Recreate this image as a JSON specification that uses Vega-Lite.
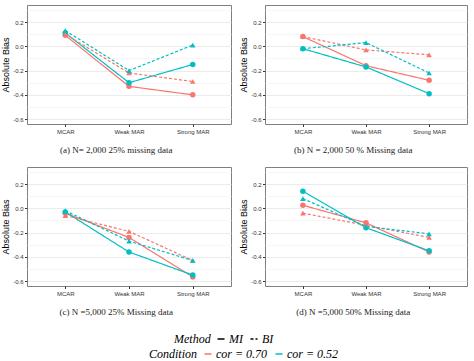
{
  "$schema": "https://vega.github.io/schema/vega-lite/v6.json",
  "padding": {"left": 1, "top": 4, "right": 5, "bottom": 0},
  "background": "white",
  "data": {"values": [
    {"p":"a","m":"MI","c":"cor = 0.70","x":"MCAR","v":0.09},
    {"p":"a","m":"MI","c":"cor = 0.70","x":"Weak MAR","v":-0.33},
    {"p":"a","m":"MI","c":"cor = 0.70","x":"Strong MAR","v":-0.40},
    {"p":"a","m":"MI","c":"cor = 0.52","x":"MCAR","v":0.11},
    {"p":"a","m":"MI","c":"cor = 0.52","x":"Weak MAR","v":-0.30},
    {"p":"a","m":"MI","c":"cor = 0.52","x":"Strong MAR","v":-0.15},
    {"p":"a","m":"BI","c":"cor = 0.70","x":"MCAR","v":0.10},
    {"p":"a","m":"BI","c":"cor = 0.70","x":"Weak MAR","v":-0.22},
    {"p":"a","m":"BI","c":"cor = 0.70","x":"Strong MAR","v":-0.29},
    {"p":"a","m":"BI","c":"cor = 0.52","x":"MCAR","v":0.13},
    {"p":"a","m":"BI","c":"cor = 0.52","x":"Weak MAR","v":-0.20},
    {"p":"a","m":"BI","c":"cor = 0.52","x":"Strong MAR","v":0.01},
    {"p":"b","m":"MI","c":"cor = 0.70","x":"MCAR","v":0.08},
    {"p":"b","m":"MI","c":"cor = 0.70","x":"Weak MAR","v":-0.16},
    {"p":"b","m":"MI","c":"cor = 0.70","x":"Strong MAR","v":-0.28},
    {"p":"b","m":"MI","c":"cor = 0.52","x":"MCAR","v":-0.02},
    {"p":"b","m":"MI","c":"cor = 0.52","x":"Weak MAR","v":-0.17},
    {"p":"b","m":"MI","c":"cor = 0.52","x":"Strong MAR","v":-0.39},
    {"p":"b","m":"BI","c":"cor = 0.70","x":"MCAR","v":0.08},
    {"p":"b","m":"BI","c":"cor = 0.70","x":"Weak MAR","v":-0.03},
    {"p":"b","m":"BI","c":"cor = 0.70","x":"Strong MAR","v":-0.07},
    {"p":"b","m":"BI","c":"cor = 0.52","x":"MCAR","v":-0.02},
    {"p":"b","m":"BI","c":"cor = 0.52","x":"Weak MAR","v":0.03},
    {"p":"b","m":"BI","c":"cor = 0.52","x":"Strong MAR","v":-0.22},
    {"p":"c","m":"MI","c":"cor = 0.70","x":"MCAR","v":-0.04},
    {"p":"c","m":"MI","c":"cor = 0.70","x":"Weak MAR","v":-0.24},
    {"p":"c","m":"MI","c":"cor = 0.70","x":"Strong MAR","v":-0.565},
    {"p":"c","m":"MI","c":"cor = 0.52","x":"MCAR","v":-0.03},
    {"p":"c","m":"MI","c":"cor = 0.52","x":"Weak MAR","v":-0.36},
    {"p":"c","m":"MI","c":"cor = 0.52","x":"Strong MAR","v":-0.55},
    {"p":"c","m":"BI","c":"cor = 0.70","x":"MCAR","v":-0.06},
    {"p":"c","m":"BI","c":"cor = 0.70","x":"Weak MAR","v":-0.19},
    {"p":"c","m":"BI","c":"cor = 0.70","x":"Strong MAR","v":-0.43},
    {"p":"c","m":"BI","c":"cor = 0.52","x":"MCAR","v":-0.02},
    {"p":"c","m":"BI","c":"cor = 0.52","x":"Weak MAR","v":-0.27},
    {"p":"c","m":"BI","c":"cor = 0.52","x":"Strong MAR","v":-0.43},
    {"p":"d","m":"MI","c":"cor = 0.70","x":"MCAR","v":0.025},
    {"p":"d","m":"MI","c":"cor = 0.70","x":"Weak MAR","v":-0.12},
    {"p":"d","m":"MI","c":"cor = 0.70","x":"Strong MAR","v":-0.36},
    {"p":"d","m":"MI","c":"cor = 0.52","x":"MCAR","v":0.14},
    {"p":"d","m":"MI","c":"cor = 0.52","x":"Weak MAR","v":-0.16},
    {"p":"d","m":"MI","c":"cor = 0.52","x":"Strong MAR","v":-0.35},
    {"p":"d","m":"BI","c":"cor = 0.70","x":"MCAR","v":-0.04},
    {"p":"d","m":"BI","c":"cor = 0.70","x":"Weak MAR","v":-0.14},
    {"p":"d","m":"BI","c":"cor = 0.70","x":"Strong MAR","v":-0.24},
    {"p":"d","m":"BI","c":"cor = 0.52","x":"MCAR","v":0.08},
    {"p":"d","m":"BI","c":"cor = 0.52","x":"Weak MAR","v":-0.15},
    {"p":"d","m":"BI","c":"cor = 0.52","x":"Strong MAR","v":-0.21}
  ]},
  "columns": 2,
  "spacing": {"row": 10, "column": 7},
  "concat": [
    {
      "width": 204, "height": 119,
      "title": {"text": "(a) N= 2,000 25% missing data"},
      "transform": [{"filter": "datum.p == 'a'"}],
      "encoding": {
        "x": {"field": "x", "type": "nominal", "scale": {"type": "point", "domain": ["MCAR","Weak MAR","Strong MAR"], "padding": 0.6}, "axis": {"title": null, "labelAngle": 0}},
        "y": {"field": "v", "type": "quantitative", "scale": {"domain": [-0.64, 0.34], "nice": false, "zero": false}, "axis": {"title": "Absolute Bias", "values": [-0.6,-0.5,-0.4,-0.3,-0.2,-0.1,0,0.1,0.2,0.3], "labelExpr": "round(datum.value*10) % 2 == 0 ? replace(format(datum.value, '.1f'), '\u2212', '-') : ''", "tickOpacity": {"condition": {"test": "round(datum.value*10) % 2 != 0", "value": 0}, "value": 1}, "gridColor": {"condition": {"test": "round(datum.value*10) % 2 != 0", "value": "#f4f4f4"}, "value": "#e6e6e6"}}},
        "color": {"field": "c", "type": "nominal", "scale": {"domain": ["cor = 0.70","cor = 0.52"], "range": ["#F8766D","#00BFC4"]}, "legend": {"title": "Condition", "orient": "none", "legendX": 122, "legendY": 343, "direction": "horizontal", "titleOrient": "left", "symbolType": "stroke"}}
      },
      "layer": [
        {"mark": {"type": "line", "strokeWidth": 1.2}, "encoding": {"strokeDash": {"field": "m", "type": "nominal", "scale": {"domain": ["MI","BI"], "range": [[1,0],[3,2]]}, "legend": {"title": "Method", "orient": "none", "legendX": 147, "legendY": 328, "direction": "horizontal", "titleOrient": "left", "symbolType": "stroke", "symbolStrokeColor": "black"}}}},
        {"transform": [{"filter": "datum.m == 'MI'"}], "mark": {"type": "point", "filled": true, "opacity": 1, "size": 30, "shape": "circle"}},
        {"transform": [{"filter": "datum.m == 'BI'"}], "mark": {"type": "point", "filled": true, "opacity": 1, "size": 30, "shape": "triangle-up"}}
      ]
    },
    {
      "width": 202, "height": 119,
      "title": {"text": "(b) N = 2,000 50 % Missing data"},
      "transform": [{"filter": "datum.p == 'b'"}],
      "encoding": {
        "x": {"field": "x", "type": "nominal", "scale": {"type": "point", "domain": ["MCAR","Weak MAR","Strong MAR"], "padding": 0.6}, "axis": {"title": null, "labelAngle": 0}},
        "y": {"field": "v", "type": "quantitative", "scale": {"domain": [-0.64, 0.34], "nice": false, "zero": false}, "axis": {"title": "Absolute Bias", "values": [-0.6,-0.5,-0.4,-0.3,-0.2,-0.1,0,0.1,0.2,0.3], "labelExpr": "round(datum.value*10) % 2 == 0 ? replace(format(datum.value, '.1f'), '\u2212', '-') : ''", "tickOpacity": {"condition": {"test": "round(datum.value*10) % 2 != 0", "value": 0}, "value": 1}, "gridColor": {"condition": {"test": "round(datum.value*10) % 2 != 0", "value": "#f4f4f4"}, "value": "#e6e6e6"}}},
        "color": {"field": "c", "type": "nominal"}
      },
      "layer": [
        {"mark": {"type": "line", "strokeWidth": 1.2}, "encoding": {"strokeDash": {"field": "m", "type": "nominal"}}},
        {"transform": [{"filter": "datum.m == 'MI'"}], "mark": {"type": "point", "filled": true, "opacity": 1, "size": 30, "shape": "circle"}},
        {"transform": [{"filter": "datum.m == 'BI'"}], "mark": {"type": "point", "filled": true, "opacity": 1, "size": 30, "shape": "triangle-up"}}
      ]
    },
    {
      "width": 204, "height": 119,
      "title": {"text": "(c) N =5,000 25% Missing data"},
      "transform": [{"filter": "datum.p == 'c'"}],
      "encoding": {
        "x": {"field": "x", "type": "nominal", "scale": {"type": "point", "domain": ["MCAR","Weak MAR","Strong MAR"], "padding": 0.6}, "axis": {"title": null, "labelAngle": 0}},
        "y": {"field": "v", "type": "quantitative", "scale": {"domain": [-0.64, 0.34], "nice": false, "zero": false}, "axis": {"title": "Absolute Bias", "values": [-0.6,-0.5,-0.4,-0.3,-0.2,-0.1,0,0.1,0.2,0.3], "labelExpr": "round(datum.value*10) % 2 == 0 ? replace(format(datum.value, '.1f'), '\u2212', '-') : ''", "tickOpacity": {"condition": {"test": "round(datum.value*10) % 2 != 0", "value": 0}, "value": 1}, "gridColor": {"condition": {"test": "round(datum.value*10) % 2 != 0", "value": "#f4f4f4"}, "value": "#e6e6e6"}}},
        "color": {"field": "c", "type": "nominal"}
      },
      "layer": [
        {"mark": {"type": "line", "strokeWidth": 1.2}, "encoding": {"strokeDash": {"field": "m", "type": "nominal"}}},
        {"transform": [{"filter": "datum.m == 'MI'"}], "mark": {"type": "point", "filled": true, "opacity": 1, "size": 30, "shape": "circle"}},
        {"transform": [{"filter": "datum.m == 'BI'"}], "mark": {"type": "point", "filled": true, "opacity": 1, "size": 30, "shape": "triangle-up"}}
      ]
    },
    {
      "width": 202, "height": 119,
      "title": {"text": "(d) N =5,000 50% Missing data"},
      "transform": [{"filter": "datum.p == 'd'"}],
      "encoding": {
        "x": {"field": "x", "type": "nominal", "scale": {"type": "point", "domain": ["MCAR","Weak MAR","Strong MAR"], "padding": 0.6}, "axis": {"title": null, "labelAngle": 0}},
        "y": {"field": "v", "type": "quantitative", "scale": {"domain": [-0.64, 0.34], "nice": false, "zero": false}, "axis": {"title": "Absolute Bias", "values": [-0.6,-0.5,-0.4,-0.3,-0.2,-0.1,0,0.1,0.2,0.3], "labelExpr": "round(datum.value*10) % 2 == 0 ? replace(format(datum.value, '.1f'), '\u2212', '-') : ''", "tickOpacity": {"condition": {"test": "round(datum.value*10) % 2 != 0", "value": 0}, "value": 1}, "gridColor": {"condition": {"test": "round(datum.value*10) % 2 != 0", "value": "#f4f4f4"}, "value": "#e6e6e6"}}},
        "color": {"field": "c", "type": "nominal"}
      },
      "layer": [
        {"mark": {"type": "line", "strokeWidth": 1.2}, "encoding": {"strokeDash": {"field": "m", "type": "nominal"}}},
        {"transform": [{"filter": "datum.m == 'MI'"}], "mark": {"type": "point", "filled": true, "opacity": 1, "size": 30, "shape": "circle"}},
        {"transform": [{"filter": "datum.m == 'BI'"}], "mark": {"type": "point", "filled": true, "opacity": 1, "size": 30, "shape": "triangle-up"}}
      ]
    }
  ],
  "config": {
    "view": {"stroke": "#7f7f7f", "strokeWidth": 1},
    "axis": {"labelFont": "Liberation Sans", "labelFontSize": 6, "labelColor": "#333333", "tickColor": "#333333", "tickSize": 2.5, "labelPadding": 1.5, "domain": false, "titleFont": "Liberation Sans", "titleFontWeight": "normal", "titleFontSize": 9, "titleColor": "#000000", "titlePadding": 2, "gridColor": "#e6e6e6", "gridWidth": 0.8},
    "title": {"orient": "bottom", "anchor": "middle", "frame": "bounds", "font": "Liberation Serif", "fontSize": 9, "fontWeight": "normal", "color": "#222222", "offset": 12},
    "legend": {"titleFont": "Liberation Serif", "titleFontStyle": "italic", "titleFontWeight": "normal", "titleFontSize": 12, "titleColor": "#000000", "labelFont": "Liberation Serif", "labelFontStyle": "italic", "labelFontSize": 12, "labelColor": "#000000", "symbolSize": 49, "symbolStrokeWidth": 1.5, "columnPadding": 4, "labelOffset": 2, "titlePadding": 4}
  }
}
